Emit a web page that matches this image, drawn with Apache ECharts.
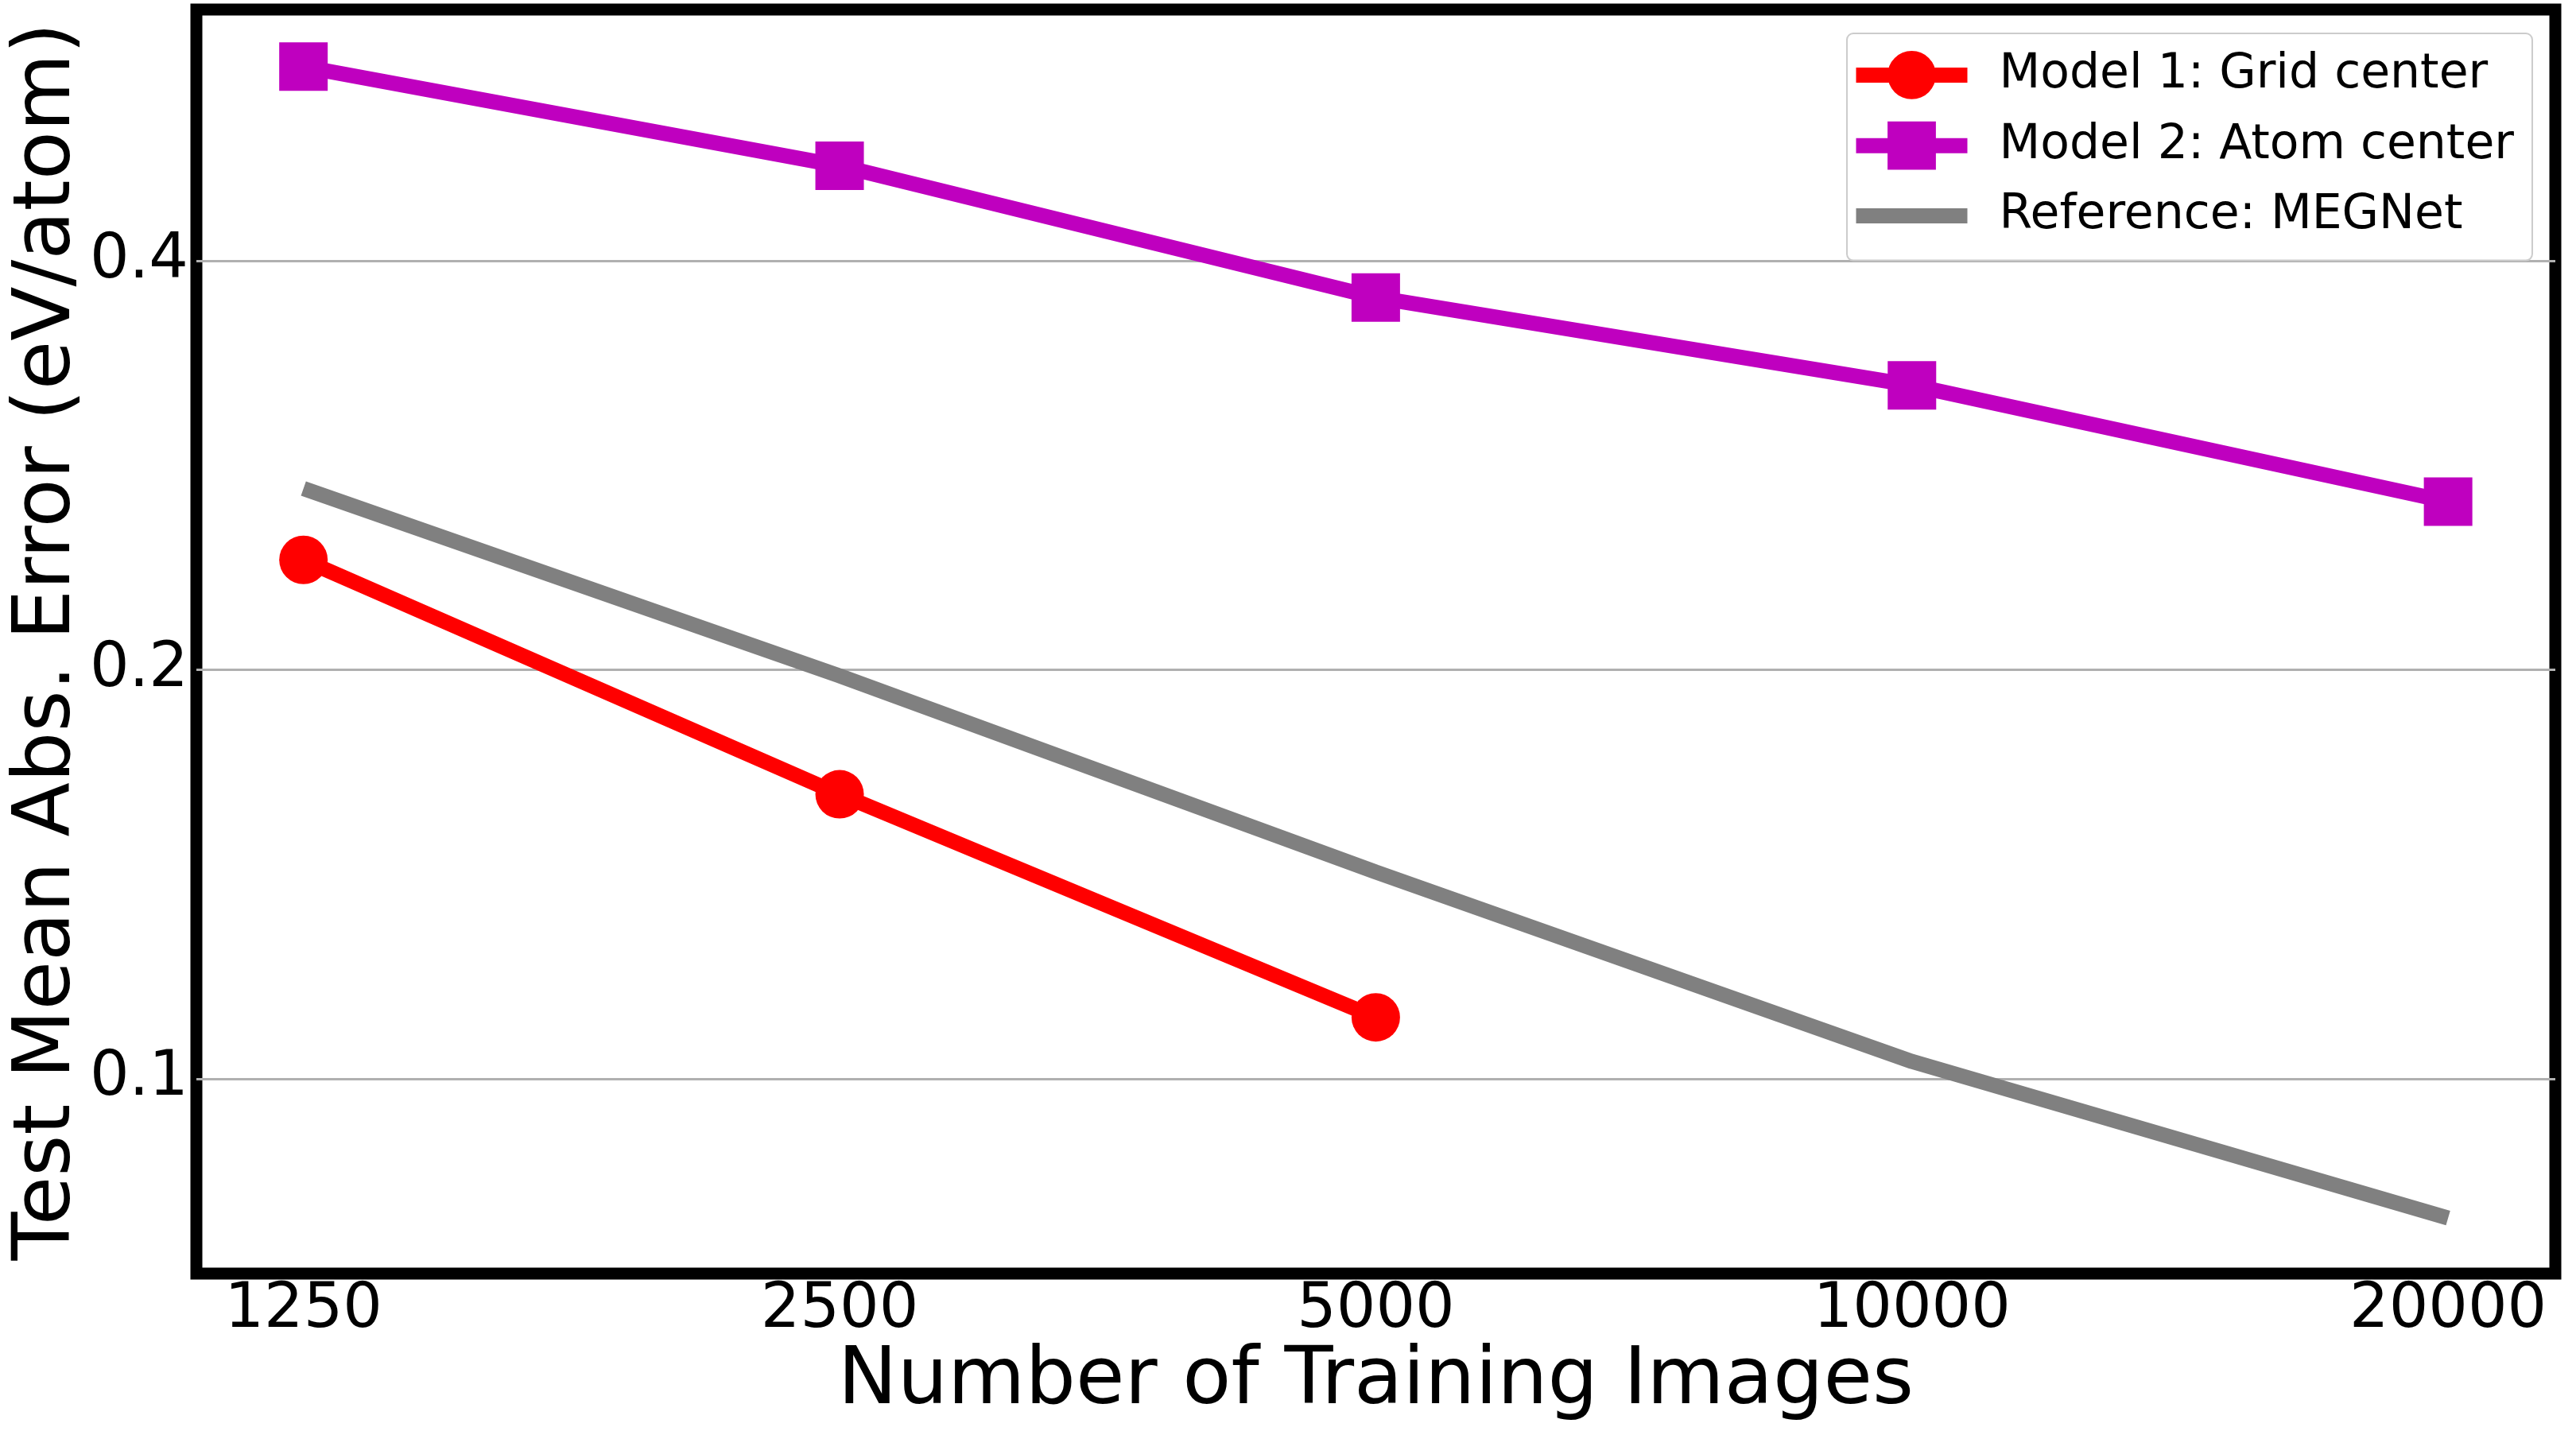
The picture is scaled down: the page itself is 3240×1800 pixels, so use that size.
<!DOCTYPE html>
<html>
<head>
<meta charset="utf-8">
<title>Test MAE vs training images</title>
<script src="https://cdn.jsdelivr.net/npm/echarts@6.0.0/dist/echarts.min.js"></script>
<style>
  html, body { margin: 0; padding: 0; background: #fff; }
  #chart { width: 3240px; height: 1800px; }
</style>
</head>
<body>
<div id="chart"></div>
<script>
// x: number of training images (log2 axis)
const trainingImages = [1250, 2500, 5000, 10000, 20000];

// test MAE (eV/atom)
const gridCenterMae = [0.241, 0.162, 0.111];
const atomCenterMae = [0.556, 0.470, 0.376, 0.324, 0.266];
const megnetMae = [0.272, 0.198, 0.142, 0.103, 0.079];

const yTicks = [0.1, 0.2, 0.4];

const seriesNames = [
  'Model 1: Grid center',
  'Model 2: Atom center',
  'Reference: MEGNet'
];

const FONT = 'DejaVu Sans';

function pairUp( values ) {
  return values.map( ( v, i ) => [ trainingImages[i], v ] );
}

const chart = echarts.init( document.getElementById( 'chart' ), null, { renderer: 'canvas' } );

const option = {
  backgroundColor: '#ffffff',
  animation: false,
  textStyle: { fontFamily: FONT, color: '#000' },
  grid: {
    left: 247,
    right: 26,
    top: 12,
    bottom: 198,
    show: true,
    borderColor: '#000',
    borderWidth: 15,
    backgroundColor: 'transparent',
    containLabel: false,
    outerBoundsMode: 'none'
  },
  legend: {
    orient: 'vertical',
    left: 2323,
    top: 42,
    padding: [ 22, 23, 26, 2 ],
    itemWidth: 140,
    itemHeight: 76,
    itemGap: 28,
    backgroundColor: 'rgba(255,255,255,0.8)',
    borderColor: '#cccccc',
    borderWidth: 2,
    borderRadius: 8,
    lineStyle: { width: 19 },
    textStyle: {
      fontFamily: FONT,
      fontSize: 60,
      color: '#000',
      padding: [ 0, 0, 0, 35 ]
    },
    data: [
      seriesNames[0],
      seriesNames[1],
      // MEGNet has no markers: show a plain thick bar
      { name: seriesNames[2], icon: 'path://M0,0H140V19H0Z' }
    ]
  },
  xAxis: {
    type: 'log',
    logBase: 2,
    min: 1088.4,
    max: 22974,
    name: 'Number of Training Images',
    nameLocation: 'middle',
    nameGap: 87,
    nameMoveOverlap: false,
    nameTextStyle: { fontFamily: FONT, fontSize: 100, color: '#000' },
    axisLine: { show: false },
    axisTick: { show: false, customValues: trainingImages },
    splitLine: { show: false },
    minorTick: { show: false },
    axisLabel: {
      customValues: trainingImages,
      fontFamily: FONT,
      fontSize: 78,
      color: '#000',
      margin: 8,
      formatter: ( v ) => String( Math.round( v ) )
    }
  },
  yAxis: {
    type: 'log',
    logBase: 10,
    min: 0.0719,
    max: 0.6125,
    name: 'Test Mean Abs. Error (eV/atom)',
    nameLocation: 'middle',
    nameGap: 136,
    nameMoveOverlap: false,
    nameTextStyle: { fontFamily: FONT, fontSize: 100, color: '#000' },
    axisLine: { show: false },
    axisTick: { show: false, customValues: yTicks },
    splitLine: { show: true, lineStyle: { color: '#b0b0b0', width: 3 } },
    axisLabel: {
      customValues: yTicks,
      fontFamily: FONT,
      fontSize: 78,
      color: '#000',
      margin: 10,
      formatter: ( v ) => Number( v ).toFixed( 1 )
    }
  },
  series: [
    {
      name: seriesNames[0],
      type: 'line',
      data: pairUp( gridCenterMae ),
      symbol: 'circle',
      symbolSize: 61,
      color: '#ff0000',
      lineStyle: { width: 19, color: '#ff0000' },
      itemStyle: { color: '#ff0000' }
    },
    {
      name: seriesNames[1],
      type: 'line',
      data: pairUp( atomCenterMae ),
      symbol: 'rect',
      symbolSize: 61,
      color: '#bf00bf',
      lineStyle: { width: 19, color: '#bf00bf' },
      itemStyle: { color: '#bf00bf' }
    },
    {
      name: seriesNames[2],
      type: 'line',
      data: pairUp( megnetMae ),
      symbol: 'none',
      color: '#808080',
      lineStyle: { width: 19, color: '#808080' },
      itemStyle: { color: '#808080' }
    }
  ]
};

chart.setOption( option );
</script>
</body>
</html>
